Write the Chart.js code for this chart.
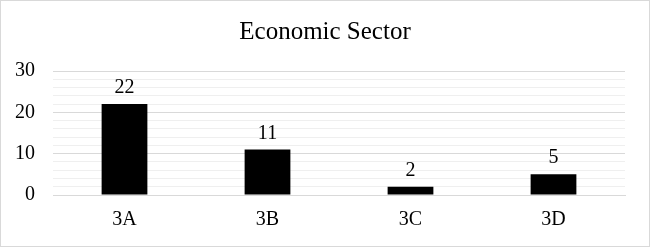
<!DOCTYPE html>
<html>
<head>
<meta charset="utf-8">
<script src="https://cdn.jsdelivr.net/npm/chart.js@4"></script>
<style>
  body { margin: 0; background: #fff; }
  #wrap { width: 650px; height: 247px; box-sizing: border-box; border: 1px solid #d9d9d9; background: #fff; }
</style>
</head>
<body>
<div id="wrap"><canvas id="myChart"></canvas></div>
<script>
const categories = ['3A', '3B', '3C', '3D']
const counts = [22, 11, 2, 5]
const yTicks = [0, 10, 20, 30]

const fontFamily = "'Liberation Serif', 'Times New Roman', serif"

// value labels above each bar
const barLabels = {
  id: 'barLabels',
  afterDatasetsDraw(chart) {
    const ctx = chart.ctx
    const meta = chart.getDatasetMeta(0)
    ctx.save()
    ctx.font = '20px ' + fontFamily
    ctx.fillStyle = '#000'
    ctx.textAlign = 'center'
    ctx.textBaseline = 'alphabetic'
    meta.data.forEach((bar, i) => {
      ctx.fillText(counts[i], bar.x, bar.y - 11)
    })
    ctx.restore()
  }
}

const ctx = document.getElementById('myChart').getContext('2d')
new Chart(ctx, {
  type: 'bar',
  data: {
    labels: categories,
    datasets: [{
      data: counts,
      backgroundColor: '#000',
      categoryPercentage: 1,
      barPercentage: 0.32
    }]
  },
  options: {
    responsive: true,
    maintainAspectRatio: false,
    animation: false,
    layout: { padding: { left: 0, right: 0, top: 8, bottom: 0 } },
    plugins: {
      legend: { display: false },
      tooltip: { enabled: false },
      title: {
        display: true,
        text: 'Economic Sector',
        color: '#000',
        font: { family: fontFamily, size: 25, weight: 'normal' },
        padding: { top: 8, bottom: 24 }
      }
    },
    scales: {
      x: {
        grid: { display: false, drawTicks: false },
        border: { color: '#d9d9d9' },
        afterFit: s => { s.height = 51 },
        ticks: { color: '#000', font: { family: fontFamily, size: 20 }, padding: 13 }
      },
      y: {
        min: 0,
        max: 30,
        border: { display: false },
        afterFit: s => { s.width = 52 },
        grid: {
          drawTicks: false,
          color: c => (yTicks.includes(c.tick.value) ? '#d9d9d9' : '#efefef')
        },
        ticks: {
          stepSize: 2,
          autoSkip: false,
          color: '#000',
          font: { family: fontFamily, size: 20 },
          padding: 18,
          callback: v => (yTicks.includes(v) ? v : '')
        }
      },
      // empty right margin so the plot ends where the reference does
      yRight: {
        type: 'linear',
        position: 'right',
        grid: { display: false, drawTicks: false },
        border: { display: false },
        ticks: { display: false },
        afterFit: s => { s.width = 24 }
      }
    }
  },
  plugins: [barLabels]
})
</script>
</body>
</html>
